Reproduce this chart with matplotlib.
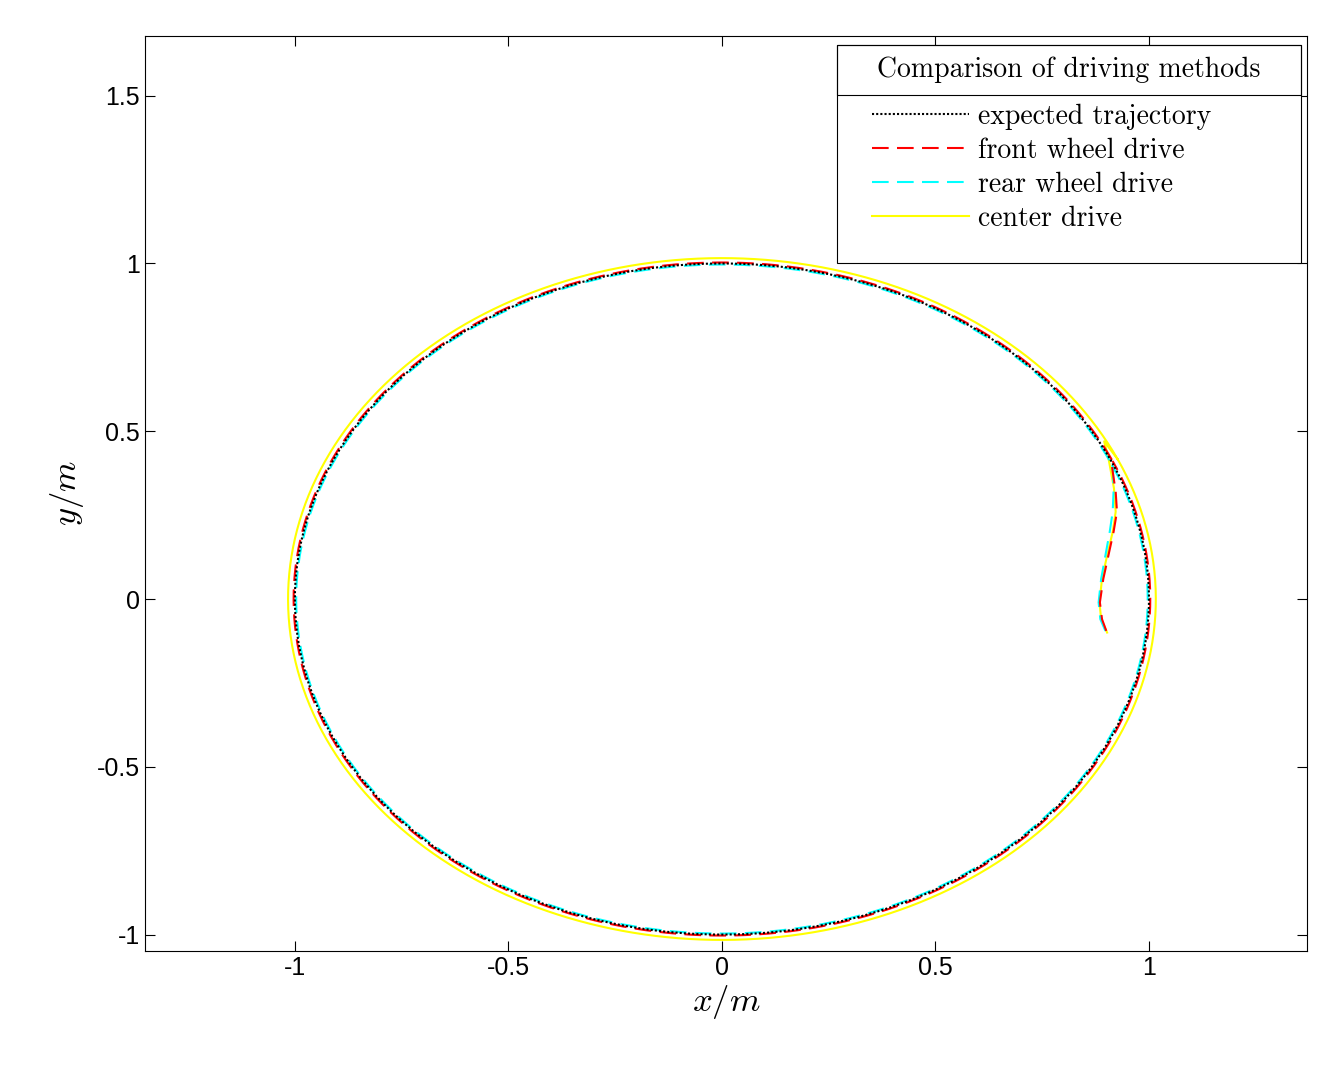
import numpy as np
import matplotlib
matplotlib.use('Agg')
from matplotlib import pyplot as plt
from matplotlib.patches import Rectangle

plt.rcParams['mathtext.fontset'] = 'cm'
plt.rcParams['font.family'] = ['Liberation Sans', 'DejaVu Sans']

# circle parameter for the reference path (counterclockwise from the join point)
theta = np.linspace(np.arctan2(0.41, 0.912), np.arctan2(0.41, 0.912) + 2 * np.pi, 721)
r_expected = 1.0
r_front = 1.003
r_rear = 0.997
r_center = 1.016

# start transients (x, y)
front_x = [0.900, 0.890, 0.885, 0.893, 0.905, 0.917, 0.925, 0.922, 0.915, 0.912]
front_y = [-0.095, -0.060, -0.010, 0.060, 0.130, 0.200, 0.260, 0.320, 0.380, 0.410]
rear_x = [0.898, 0.886, 0.882, 0.888, 0.898, 0.908, 0.915, 0.917, 0.916, 0.912]
rear_y = [-0.095, -0.060, -0.010, 0.060, 0.130, 0.200, 0.260, 0.320, 0.380, 0.410]
center_x = [0.902, 0.888, 0.884, 0.890, 0.902, 0.915, 0.922, 0.918, 0.905, 0.895]
center_y = [-0.100, -0.060, -0.010, 0.060, 0.130, 0.200, 0.260, 0.330, 0.420, 0.470]

fig = plt.figure(figsize=(13.32, 10.73), dpi=100)
ax = fig.add_axes([145 / 1332, 1 - 951 / 1073, (1307 - 145) / 1332, (951 - 36) / 1073])

ax.plot(np.r_[center_x, r_center * np.cos(theta)], np.r_[center_y, r_center * np.sin(theta)],
        color='yellow', lw=1.5, label='center drive')
ax.plot(np.r_[rear_x, r_rear * np.cos(theta)], np.r_[rear_y, r_rear * np.sin(theta)],
        color='cyan', lw=1.5, ls=(0, (8, 4)), label='rear wheel drive')
ax.plot(np.r_[front_x, r_front * np.cos(theta)], np.r_[front_y, r_front * np.sin(theta)],
        color='red', lw=1.5, ls=(0, (8, 4)), label='front wheel drive')
ax.plot(r_expected * np.cos(theta), r_expected * np.sin(theta),
        color='black', lw=1.5, ls=(0, (1, 1)), label='expected trajectory')

ax.set_xlim(-1.351, 1.370)
ax.set_ylim(-1.049, 1.678)
ax.set_xticks([-1, -0.5, 0, 0.5, 1])
ax.set_xticklabels(['-1', '-0.5', '0', '0.5', '1'])
ax.set_yticks([-1, -0.5, 0, 0.5, 1, 1.5])
ax.set_yticklabels(['-1', '-0.5', '0', '0.5', '1', '1.5'])
ax.tick_params(direction='in', top=True, right=True, labelsize=18, length=7, width=0.8)
for s in ax.spines.values():
    s.set_linewidth(0.8)
ax.set_xlabel(r'$x/m$', fontsize=25, labelpad=2)
ax.set_ylabel(r'$y/m$', fontsize=25, labelpad=8)

h, l = ax.get_legend_handles_labels()
order = [3, 2, 1, 0]
x0, x1 = 837 / 1332, 1301 / 1332
yt, ym, yb = 1 - 45 / 1073, 1 - 95 / 1073, 1 - 263 / 1073
leg = fig.legend([h[i] for i in order], [l[i] for i in order],
                 loc='upper left', bbox_to_anchor=(x0 + 0.02, yb, x1 - x0 - 0.02, ym - yb),
                 prop={'family': 'cmr10', 'size': 20}, frameon=False, handlelength=3.5,
                 borderaxespad=0, labelspacing=0.28, borderpad=0.3, handletextpad=0.3)
fig.patches.append(Rectangle((x0, yb), x1 - x0, yt - yb, transform=fig.transFigure,
                             fill=True, facecolor='white', edgecolor='black', lw=0.8, zorder=2))
fig.patches.append(Rectangle((x0, ym), x1 - x0, yt - ym, transform=fig.transFigure,
                             fill=False, edgecolor='black', lw=0.8, zorder=3))
fig.text((x0 + x1) / 2, (yt + ym) / 2, 'Comparison of driving methods', family='cmr10',
         fontsize=20, ha='center', va='center', zorder=4)
leg.set_zorder(5)

fig.savefig('out.png', dpi=100)
